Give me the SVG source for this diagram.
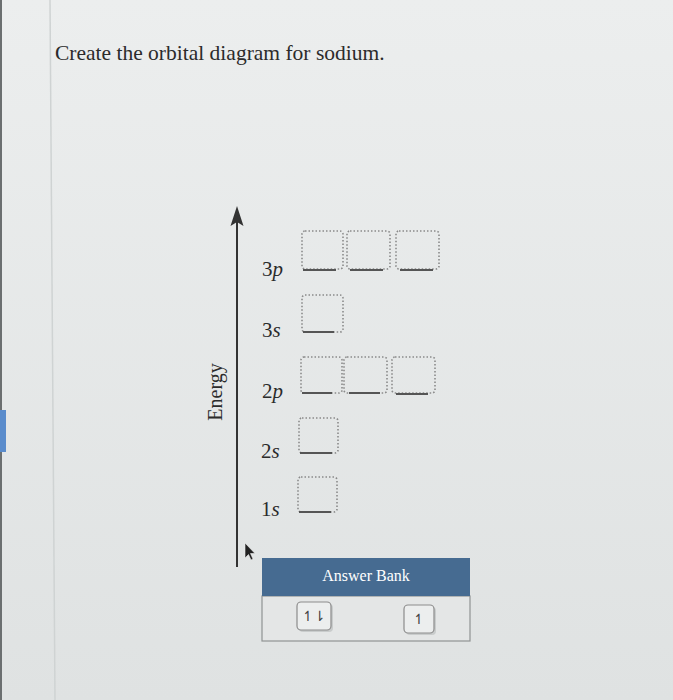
<svg xmlns="http://www.w3.org/2000/svg" width="673" height="700" viewBox="0 0 673 700">
<style>
.t{font-family:"Liberation Serif","Times New Roman",serif;fill:#2b2b2b}
.lbl{font-size:21px}
.box{fill:none;stroke:#8a8a8a;stroke-width:1.6;stroke-dasharray:1.5 2}
.ul{stroke:#555;stroke-width:2}
.tile{fill:#eceeee;stroke:#8c8c8c;stroke-width:1.2}
.sym{font-family:"DejaVu Sans",sans-serif;font-size:14px;fill:#444;text-anchor:middle}
</style>
<defs>
<linearGradient id="bg" x1="0" y1="0" x2="0" y2="1">
<stop offset="0" stop-color="#eceeee"/>
<stop offset="1" stop-color="#dfe2e2"/>
</linearGradient>
</defs>
<rect width="673" height="700" fill="url(#bg)"/>
<line x1="50" y1="0" x2="55" y2="700" stroke="#cfd3d3" stroke-width="1.5"/>
<rect x="0" y="0" width="2" height="700" fill="#6b6f70"/>
<rect x="0" y="410" width="6" height="42" fill="#5a8ccc"/>
<text class="t" x="55" y="60" font-size="21.5">Create the orbital diagram for sodium.</text>

<g id="connectors">
<line x1="237" y1="567" x2="237" y2="220" stroke="#333" stroke-width="2"/>
<path d="M237 206 L243.5 226 L237 222 L230.5 226 Z" fill="#333"/>
</g>
<g id="energy"><text class="t" font-size="20" transform="translate(222,392) rotate(-90)" text-anchor="middle">Energy</text></g>

<g id="orb-3p">
<text class="t lbl" x="262" y="276">3<tspan font-style="italic">p</tspan></text>
<rect class="box" x="302" y="231" width="41" height="38" rx="3"/>
<rect class="box" x="347" y="231" width="43" height="38" rx="3"/>
<rect class="box" x="396" y="231" width="43" height="38" rx="3"/>
<line class="ul" x1="303" y1="270" x2="336" y2="270"/>
<line class="ul" x1="350" y1="270" x2="383" y2="270"/>
<line class="ul" x1="400" y1="270" x2="433" y2="270"/>
</g>
<g id="orb-3s">
<text class="t lbl" x="262" y="337">3<tspan font-style="italic">s</tspan></text>
<rect class="box" x="302" y="295" width="41" height="37" rx="3"/>
<line class="ul" x1="303" y1="332" x2="334" y2="332"/>
</g>
<g id="orb-2p">
<text class="t lbl" x="262" y="398">2<tspan font-style="italic">p</tspan></text>
<rect class="box" x="301" y="357" width="41" height="36" rx="3"/>
<rect class="box" x="344" y="357" width="43" height="36" rx="3"/>
<rect class="box" x="392" y="357" width="43" height="36" rx="3"/>
<line class="ul" x1="302" y1="393" x2="332" y2="393"/>
<line class="ul" x1="349" y1="393" x2="380" y2="393"/>
<line class="ul" x1="396" y1="394" x2="428" y2="394"/>
</g>
<g id="orb-2s">
<text class="t lbl" x="261" y="458">2<tspan font-style="italic">s</tspan></text>
<rect class="box" x="299" y="418" width="39" height="35" rx="3"/>
<line class="ul" x1="300" y1="453" x2="332" y2="453"/>
</g>
<g id="orb-1s">
<text class="t lbl" x="261" y="516">1<tspan font-style="italic">s</tspan></text>
<rect class="box" x="298" y="477" width="39" height="35" rx="3"/>
<line class="ul" x1="299" y1="512" x2="331" y2="512"/>
</g>

<g id="cursor"><path d="M245 543 L245 558 L248.5 554.5 L251 560 L253 559 L250.5 553.5 L255 553.5 Z" fill="#222" stroke="#eee" stroke-width="0.6"/></g>

<g id="answer-bank">
<rect x="262" y="596" width="208" height="45" fill="#e4e6e6" stroke="#8f9393" stroke-width="1.2"/>
<rect x="262" y="558" width="208" height="38" fill="#466b91"/>
<text x="366" y="581" font-family="Liberation Serif,serif" font-size="16" fill="#ffffff" text-anchor="middle">Answer Bank</text>
</g>
<g id="tile-pair">
<rect x="299" y="604" width="34" height="28" rx="4" fill="#c9cccc"/>
<rect class="tile" x="297" y="602" width="34" height="28" rx="4"/>
<text class="sym" x="314" y="621">↿⇂</text>
</g>
<g id="tile-single">
<rect x="406" y="607" width="30" height="28" rx="4" fill="#c9cccc"/>
<rect class="tile" x="404" y="605" width="30" height="28" rx="4"/>
<text class="sym" x="419" y="624">↿</text>
</g>
</svg>
